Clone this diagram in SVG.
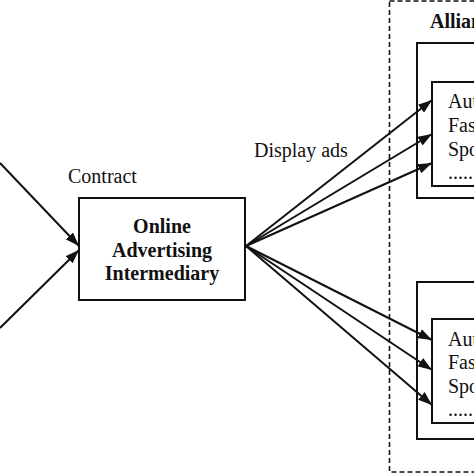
<svg xmlns="http://www.w3.org/2000/svg" width="474" height="474" viewBox="0 0 474 474">
<defs>
<style>
.t{font-family:"Liberation Serif","Times New Roman",serif;font-size:20px;fill:#111}
.b{font-weight:bold}
.box{fill:none;stroke:#111;stroke-width:2}
.ln{stroke:#111;stroke-width:2;fill:none}
.dash{fill:none;stroke:#111;stroke-width:1.6;stroke-dasharray:5,3}
</style>
<marker id="ah" viewBox="0 0 14 10" refX="14" refY="5" markerWidth="14" markerHeight="10" markerUnits="userSpaceOnUse" orient="auto">
<path d="M0,0 L14,5 L0,10 Z" fill="#111"/>
</marker>
</defs>
<rect width="474" height="474" fill="#fff"/>
<g id="alliance">
<rect class="dash" x="389.5" y="1" width="100" height="471"/>
<text class="t b" x="430" y="28">Alliance</text>
</g>
<g id="intermediary">
<rect class="box" x="79" y="198" width="166" height="102"/>
<text class="t b" x="162" y="233" text-anchor="middle">Online</text>
<text class="t b" x="162" y="257" text-anchor="middle">Advertising</text>
<text class="t b" x="162" y="280" text-anchor="middle">Intermediary</text>
</g>
<g id="site-group-1">
<rect class="box" x="417" y="43" width="80" height="155"/>
<rect class="box" x="432" y="82" width="80" height="104"/>
<text class="t" x="448" y="108">Automobile</text>
<text class="t" x="448" y="132">Fashion</text>
<text class="t" x="448" y="156">Sports</text>
<text class="t" x="448" y="179">......</text>
</g>
<g id="site-group-2">
<rect class="box" x="417" y="282" width="80" height="157"/>
<rect class="box" x="432" y="319" width="80" height="104"/>
<text class="t" x="448" y="346">Automobile</text>
<text class="t" x="448" y="369">Fashion</text>
<text class="t" x="448" y="393">Sports</text>
<text class="t" x="448" y="416">......</text>
</g>
<g id="labels">
<text class="t" x="68" y="183">Contract</text>
<text class="t" x="254" y="157">Display ads</text>
</g>
<g id="connectors">
<line class="ln" x1="0" y1="163" x2="79" y2="246" marker-end="url(#ah)"/>
<line class="ln" x1="0" y1="328" x2="79" y2="250" marker-end="url(#ah)"/>
<line class="ln" x1="246" y1="246" x2="432" y2="100" marker-end="url(#ah)"/>
<line class="ln" x1="246" y1="246" x2="432" y2="134" marker-end="url(#ah)"/>
<line class="ln" x1="246" y1="246" x2="432" y2="163" marker-end="url(#ah)"/>
<line class="ln" x1="246" y1="246" x2="432" y2="340" marker-end="url(#ah)"/>
<line class="ln" x1="246" y1="246" x2="432" y2="370" marker-end="url(#ah)"/>
<line class="ln" x1="246" y1="246" x2="432" y2="405" marker-end="url(#ah)"/>
</g>
</svg>
